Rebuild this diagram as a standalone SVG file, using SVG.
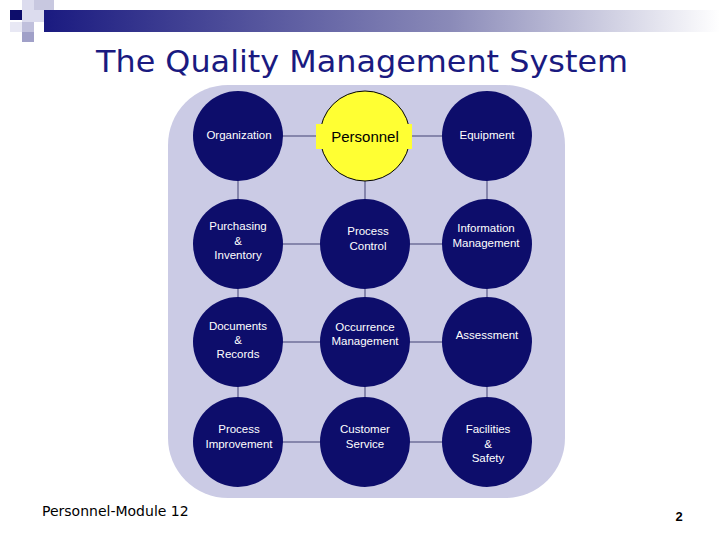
<svg xmlns="http://www.w3.org/2000/svg" width="720" height="540" viewBox="0 0 720 540">
<defs>
<linearGradient id="bar" x1="0" x2="1" y1="0" y2="0"><stop offset="0" stop-color="#1a1a80"/><stop offset="0.6" stop-color="#8a8ab8"/><stop offset="1" stop-color="#ffffff"/></linearGradient>
<style>
.n{fill:#0d0d6b}
.t{font-family:"Liberation Sans",Arial,sans-serif;font-size:11.5px;fill:#fff;text-anchor:middle}
.c line{stroke:#6f6f99;stroke-width:1.5}
</style>
</defs>
<rect width="720" height="540" fill="#fff"/>
<rect x="44" y="10" width="676" height="22" fill="url(#bar)"/>
<rect x="22" y="0" width="12" height="10" fill="#dcdcee"/>
<rect x="34" y="0" width="20" height="10" fill="#c8c8e0"/>
<rect x="10" y="10" width="12" height="10" fill="#0d0d6b"/>
<rect x="22" y="10" width="22" height="12" fill="#dcdcee"/>
<rect x="22" y="22" width="12" height="10" fill="#c0c0dc"/>
<rect x="10" y="22" width="12" height="10" fill="#e8e8f4"/>
<rect x="22" y="32" width="12" height="10" fill="#a0a0c8"/>
<text x="96" y="72" font-family="DejaVu Sans,sans-serif" font-size="31" fill="#1a1a80" textLength="532" lengthAdjust="spacingAndGlyphs">The Quality Management System</text>
<rect x="168" y="85" width="397" height="413" rx="60" fill="#cbcbe5"/>
<g class="c">
<line x1="238" y1="136" x2="487" y2="136"/><line x1="238" y1="244" x2="487" y2="244"/><line x1="238" y1="342" x2="487" y2="342"/><line x1="238" y1="442" x2="487" y2="442"/>
<line x1="238" y1="136" x2="238" y2="442"/><line x1="365" y1="136" x2="365" y2="442"/><line x1="487" y1="136" x2="487" y2="442"/>
</g>
<g id="organization"><circle class="n" cx="238" cy="136" r="45"/><text class="t" x="239" y="139">Organization</text></g>
<g id="personnel"><circle cx="365" cy="136" r="45" fill="#ffff33" stroke="#000" stroke-width="1"/><rect x="316" y="124" width="96" height="25" fill="#ffff33"/><text x="365" y="142" font-family="Liberation Sans,Arial,sans-serif" font-size="15" fill="#000" text-anchor="middle">Personnel</text></g>
<g id="equipment"><circle class="n" cx="487" cy="136" r="45"/><text class="t" x="487" y="139">Equipment</text></g>
<g id="purchasing"><circle class="n" cx="238" cy="244" r="45"/><text class="t" x="238" y="230">Purchasing</text><text class="t" x="238" y="245">&amp;</text><text class="t" x="238" y="259">Inventory</text></g>
<g id="process-control"><circle class="n" cx="365" cy="244" r="45"/><text class="t" x="368" y="235">Process</text><text class="t" x="368" y="250">Control</text></g>
<g id="information"><circle class="n" cx="487" cy="244" r="45"/><text class="t" x="486" y="232">Information</text><text class="t" x="486" y="247">Management</text></g>
<g id="documents"><circle class="n" cx="238" cy="342" r="45"/><text class="t" x="238" y="330">Documents</text><text class="t" x="238" y="344">&amp;</text><text class="t" x="238" y="358">Records</text></g>
<g id="occurrence"><circle class="n" cx="365" cy="342" r="45"/><text class="t" x="365" y="331">Occurrence</text><text class="t" x="365" y="345">Management</text></g>
<g id="assessment"><circle class="n" cx="487" cy="342" r="45"/><text class="t" x="487" y="339">Assessment</text></g>
<g id="process-improvement"><circle class="n" cx="238" cy="442" r="45"/><text class="t" x="239" y="433">Process</text><text class="t" x="239" y="448">Improvement</text></g>
<g id="customer"><circle class="n" cx="365" cy="442" r="45"/><text class="t" x="365" y="433">Customer</text><text class="t" x="365" y="448">Service</text></g>
<g id="facilities"><circle class="n" cx="487" cy="442" r="45"/><text class="t" x="488" y="433">Facilities</text><text class="t" x="488" y="448">&amp;</text><text class="t" x="488" y="462">Safety</text></g>
<text x="42" y="516" font-family="DejaVu Sans,sans-serif" font-size="14" fill="#000">Personnel-Module 12</text>
<text x="679" y="521" font-family="Liberation Sans,Arial,sans-serif" font-size="13" font-weight="bold" fill="#000" text-anchor="middle">2</text>
</svg>
